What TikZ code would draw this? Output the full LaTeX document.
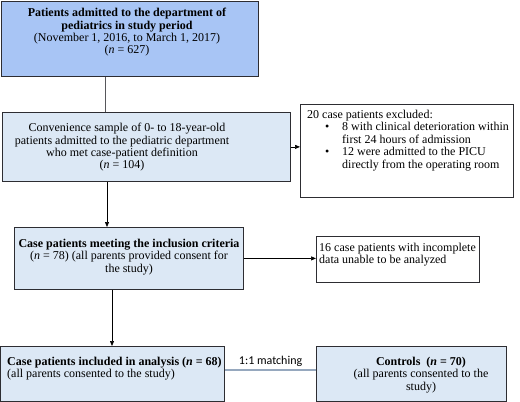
\documentclass[tikz,border=0pt]{standalone}
\usepackage{fontspec}
\setmainfont{Liberation Serif}
\newfontfamily\matchfont{Carlito}
\usetikzlibrary{arrows.meta}
\definecolor{bluedark}{RGB}{168,197,245}
\definecolor{bluelight}{RGB}{220,232,245}
\definecolor{edgecol}{RGB}{45,45,50}
\definecolor{matchcol}{RGB}{150,168,190}
\begin{document}
\begin{tikzpicture}[x=1pt,y=-1pt,
  box/.style={draw=edgecol, line width=0.8pt, inner sep=0pt, anchor=north west},
  txt/.style={inner sep=0pt, font=\fontsize{12}{12.4}\selectfont},
  arr/.style={draw=black, line width=0.7pt, -{Triangle[length=5pt,width=4pt]}},
  plainline/.style={draw=edgecol!80, line width=0.8pt}]
\useasboundingbox (0,0) rectangle (520,402);
\fill[white] (0,0) rectangle (520,402);
% boxes
\node[box, fill=bluedark, line width=1.2pt, minimum width=257pt, minimum height=75pt] (b1) at (0.6,0.6) {};
\node[box, fill=bluelight, minimum width=288pt, minimum height=69pt] (b2) at (2,112) {};
\node[box, fill=white, minimum width=213pt, minimum height=93pt] (ex) at (300,104) {};
\node[box, fill=bluelight, minimum width=229pt, minimum height=62pt] (b3) at (14,227) {};
\node[box, fill=white, minimum width=163pt, minimum height=46pt] (inc) at (316,236) {};
\node[box, fill=bluelight, minimum width=224pt, minimum height=55pt] (b4) at (0.4,346) {};
\node[box, fill=bluelight, minimum width=190pt, minimum height=55pt] (ctl) at (316,346) {};
% texts
\node[txt, align=center, anchor=north] (t1) at (127,8) {\textbf{Patients admitted to the department of}\\\textbf{pediatrics in study period}\\(November 1, 2016, to March 1, 2017)\\(\textit{n} = 627)};
\node[txt, align=center, anchor=north] (t2) at (122,123) {\hspace*{10pt}Convenience sample of 0- to 18-year-old\\patients admitted to the pediatric department\\who met case-patient definition\\(\textit{n} = 104)};
\node[txt, align=left, anchor=north west] (tex) at (307,110) {20 case patients excluded:\\\makebox[35pt][l]{\hspace*{18pt}\textbullet}8 with clinical deterioration within\\\hspace*{35pt}first 24 hours of admission\\\makebox[35pt][l]{\hspace*{18pt}\textbullet}12 were admitted to the PICU\\\hspace*{35pt}directly from the operating room};
\node[txt, align=center, anchor=north] (t3) at (129,239) {\textbf{Case patients meeting the inclusion criteria}\\(\textit{n} = 78) (all parents provided consent for\\the study)};
\node[txt, align=left, anchor=north west] (tinc) at (319,243) {16 case patients with incomplete\\data unable to be analyzed};
\node[txt, align=left, anchor=north west] (t4) at (7,357) {\textbf{Case patients included in analysis (\textit{n} = 68)}\\(all parents consented to the study)};
\node[txt, align=center, anchor=north] (tctl) at (421,357) {\textbf{Controls\ \ (\textit{n} = 70)}\\(all parents consented to the\\study)};
% connectors
\coordinate (x1) at (105,0);
\coordinate (x2) at (107,0);
\coordinate (x3) at (112,0);
\coordinate (ym) at (0,370);
\draw[plainline] (b1.south -| x1) -- (b2.north -| x1);
\draw[arr] (b2.east) -- (b2.east -| ex.west);
\draw[arr] (b2.south -| x2) -- (b3.north -| x2);
\draw[arr] (b3.east) -- (b3.east -| inc.west);
\draw[arr] (b3.south -| x3) -- (b4.north -| x3);
\draw[draw=matchcol, line width=1.2pt] (b4.east |- ym) -- node[above=3pt, inner sep=0pt, font=\matchfont\fontsize{12}{12}\selectfont] (lm) {1:1 matching} (ctl.west |- ym);
\end{tikzpicture}
\end{document}
